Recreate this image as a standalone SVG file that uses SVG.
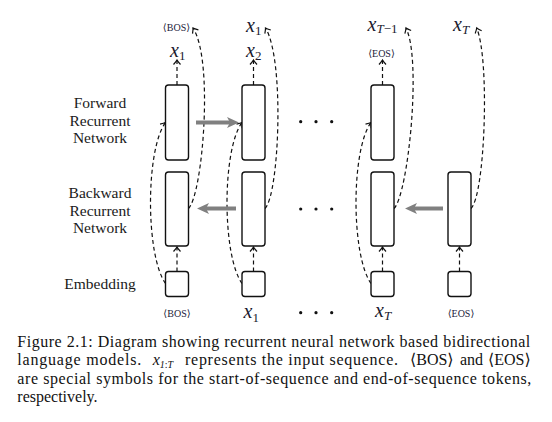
<svg xmlns="http://www.w3.org/2000/svg" width="552" height="422" viewBox="0 0 552 422">
<defs>
<style>
.box{fill:#fff;stroke:#111;stroke-width:1.4}
.dash{fill:none;stroke:#111;stroke-width:1.2;stroke-dasharray:4 3;marker-end:url(#ah)}
.gray{fill:none;stroke:#808080;stroke-width:4;marker-end:url(#gh)}
.lbl{font-family:"Liberation Serif","DejaVu Serif",serif;font-size:15.5px;fill:#1a1a1a;text-anchor:middle}
.tok{font-family:"Liberation Serif","DejaVu Serif","DejaVu Sans",serif;font-size:10px;fill:#22223a;text-anchor:middle}
.mx{font-family:"Liberation Serif","DejaVu Serif",serif;font-style:italic;font-size:20px;fill:#1a1a2e}
.sub{font-size:13px;font-style:normal}
.subi{font-size:13px;font-style:italic}
.cap{font-family:"Liberation Serif","DejaVu Serif","DejaVu Sans",serif;font-size:16px;fill:#111}
.dot{fill:#111}
</style>
<marker id="ah" markerUnits="userSpaceOnUse" viewBox="-7 -6 9 12" markerWidth="9" markerHeight="12" refX="0" refY="0" orient="auto" overflow="visible">
<path d="M-4.5,-3.5 Q-1.5,-0.8 0,0 Q-1.5,0.8 -4.5,3.5" fill="none" stroke="#111" stroke-width="1.2"/>
</marker>
<marker id="gh" markerUnits="userSpaceOnUse" viewBox="-13 -7 15 14" markerWidth="15" markerHeight="14" refX="-6" refY="0" orient="auto" overflow="visible">
<path d="M-12,-5.5 L0,0 L-12,5.5 L-9,0 z" fill="#808080"/>
</marker>
</defs>
<rect width="552" height="422" fill="#fff"/>

<g id="row-labels">
<text class="lbl" x="100" y="108">Forward</text>
<text class="lbl" x="100" y="125.5">Recurrent</text>
<text class="lbl" x="100" y="142.5">Network</text>
<text class="lbl" x="100" y="198">Backward</text>
<text class="lbl" x="100" y="215.5">Recurrent</text>
<text class="lbl" x="100" y="232.5">Network</text>
<text class="lbl" x="100" y="289">Embedding</text>
</g>

<g id="connectors">
<!-- forward outputs -->
<path class="dash" d="M177,85 L177,60"/>
<path class="dash" d="M253.5,85 L253.5,60"/>
<path class="dash" d="M382.5,85 L382.5,60"/>
<!-- embedding to backward -->
<path class="dash" d="M177,271.5 L177,247"/>
<path class="dash" d="M253.5,271.5 L253.5,247"/>
<path class="dash" d="M382.5,271.5 L382.5,247"/>
<path class="dash" d="M459.5,271.5 L459.5,247"/>
<!-- embedding to forward (left curves) -->
<path class="dash" d="M165.5,283.5 C145.5,255 145.5,150 165.5,122.5"/>
<path class="dash" d="M242,283.5 C222,255 222,150 242,122.5"/>
<path class="dash" d="M371,283.5 C351,255 351,150 371,122.5"/>
<!-- backward outputs (right curves) -->
<path class="dash" d="M188.5,208.5 C202.5,195 214,60 193,28"/>
<path class="dash" d="M265,208.5 C279,195 285,60 265.5,28"/>
<path class="dash" d="M394,208.5 C408,195 422,60 406,28"/>
<path class="dash" d="M471,208.5 C485,195 490,60 476.7,28"/>
<!-- recurrent arrows -->
<path class="gray" d="M196,122.5 L233,122.5"/>
<path class="gray" d="M236,208.5 L203,208.5"/>
<path class="gray" d="M443,208.5 L411,208.5"/>
</g>

<g id="fwd1"><rect class="box" x="165.5" y="85" width="23" height="75" rx="3"/></g>
<g id="fwd2"><rect class="box" x="242" y="85" width="23" height="75" rx="3"/></g>
<g id="fwd3"><rect class="box" x="371" y="85" width="23" height="75" rx="3"/></g>

<g id="bwd1"><rect class="box" x="165.5" y="172" width="23" height="74" rx="3"/></g>
<g id="bwd2"><rect class="box" x="242" y="172" width="23" height="74" rx="3"/></g>
<g id="bwd3"><rect class="box" x="371" y="172" width="23" height="74" rx="3"/></g>
<g id="bwd4"><rect class="box" x="448" y="172" width="23" height="74" rx="3"/></g>

<g id="emb1"><rect class="box" x="165.5" y="271.5" width="23" height="25" rx="3"/></g>
<g id="emb2"><rect class="box" x="242" y="271.5" width="23" height="25" rx="3"/></g>
<g id="emb3"><rect class="box" x="371" y="271.5" width="23" height="25" rx="3"/></g>
<g id="emb4"><rect class="box" x="448" y="271.5" width="23" height="25" rx="3"/></g>

<g id="top-labels">
<text class="tok" x="176.5" y="31">⟨BOS⟩</text>
<text class="mx" x="246" y="31.5">x<tspan class="sub" dy="3">1</tspan></text>
<text class="mx" x="367.5" y="30.5">x<tspan class="subi" dy="2.5">T</tspan><tspan class="sub">−1</tspan></text>
<text class="mx" x="453" y="30.5">x<tspan class="subi" dy="3">T</tspan></text>
<text class="mx" x="170" y="56.5">x<tspan class="sub" dy="3">1</tspan></text>
<text class="mx" x="246" y="56.5">x<tspan class="sub" dy="3">2</tspan></text>
<text class="tok" x="381.5" y="57">⟨EOS⟩</text>
</g>

<g id="bottom-labels">
<text class="tok" x="177" y="317">⟨BOS⟩</text>
<text class="mx" x="243.5" y="318">x<tspan class="sub" dy="4">1</tspan></text>
<text class="mx" x="375" y="316.5">x<tspan class="subi" dy="3.5">T</tspan></text>
<text class="tok" x="461" y="316.5">⟨EOS⟩</text>
</g>

<g id="ellipses">
<circle class="dot" cx="300.7" cy="121.7" r="1.6"/><circle class="dot" cx="316" cy="121.7" r="1.6"/><circle class="dot" cx="331.7" cy="121.7" r="1.6"/>
<circle class="dot" cx="300.7" cy="209" r="1.6"/><circle class="dot" cx="316" cy="209" r="1.6"/><circle class="dot" cx="331.7" cy="209" r="1.6"/>
<circle class="dot" cx="300.7" cy="312.7" r="1.6"/><circle class="dot" cx="316" cy="312.7" r="1.6"/><circle class="dot" cx="331.7" cy="312.7" r="1.6"/>
</g>

<g id="caption">
<text class="cap" x="17.3" y="346.5" textLength="513" lengthAdjust="spacing">Figure 2.1: Diagram showing recurrent neural network based bidirectional</text>
<text class="cap" x="17.3" y="365" textLength="124" lengthAdjust="spacing">language models.</text>
<text class="cap" x="152.7" y="365" font-style="italic" font-size="15">x<tspan font-size="10" dy="2.5">1</tspan><tspan font-size="10" font-style="normal">:</tspan><tspan font-size="10">T</tspan></text>
<text class="cap" x="185" y="365" textLength="213" lengthAdjust="spacing">represents the input sequence.</text>
<text class="cap" x="410" y="365">⟨BOS⟩</text>
<text class="cap" x="460" y="365">and</text>
<text class="cap" x="488" y="365">⟨EOS⟩</text>
<text class="cap" x="17.3" y="383.5" textLength="514" lengthAdjust="spacing">are special symbols for the start-of-sequence and end-of-sequence tokens,</text>
<text class="cap" x="17.3" y="401.5">respectively.</text>
</g>
</svg>
